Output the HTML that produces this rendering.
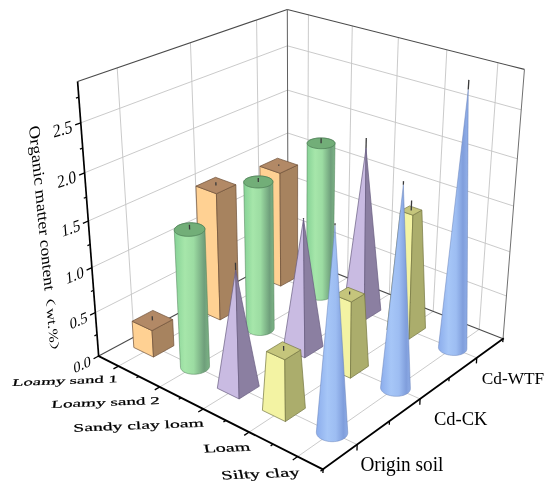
<!DOCTYPE html>
<html><head><meta charset="utf-8"><style>
html,body{margin:0;padding:0;background:#fff;}
svg{display:block;}
text{font-family:"Liberation Serif","Noto Serif CJK SC",serif;fill:#000;font-kerning:none;}
.t3{stroke:#000;stroke-width:0.3px;vector-effect:non-scaling-stroke;stroke-linejoin:round;}
</style></head><body>
<svg width="550" height="497" viewBox="0 0 550 497">
<defs><linearGradient id="g1" gradientUnits="userSpaceOnUse" x1="306.60" y1="0" x2="335.01" y2="0"><stop offset="0" stop-color="#86d296"/><stop offset="0.3" stop-color="#a6e6aa"/><stop offset="0.55" stop-color="#9cdca2"/><stop offset="0.85" stop-color="#6f9f7b"/><stop offset="1" stop-color="#7cb486"/></linearGradient><linearGradient id="g2" gradientUnits="userSpaceOnUse" x1="243.74" y1="0" x2="274.20" y2="0"><stop offset="0" stop-color="#86d296"/><stop offset="0.3" stop-color="#a6e6aa"/><stop offset="0.55" stop-color="#9cdca2"/><stop offset="0.85" stop-color="#6f9f7b"/><stop offset="1" stop-color="#7cb486"/></linearGradient><linearGradient id="g3" gradientUnits="userSpaceOnUse" x1="438.45" y1="0" x2="466.89" y2="0"><stop offset="0" stop-color="#8cadec"/><stop offset="0.35" stop-color="#a6c6f7"/><stop offset="0.62" stop-color="#9dbdf2"/><stop offset="0.86" stop-color="#809edc"/><stop offset="1" stop-color="#8eace6"/></linearGradient><linearGradient id="g4" gradientUnits="userSpaceOnUse" x1="174.26" y1="0" x2="209.56" y2="0"><stop offset="0" stop-color="#86d296"/><stop offset="0.3" stop-color="#a6e6aa"/><stop offset="0.55" stop-color="#9cdca2"/><stop offset="0.85" stop-color="#6f9f7b"/><stop offset="1" stop-color="#7cb486"/></linearGradient><linearGradient id="g5" gradientUnits="userSpaceOnUse" x1="380.56" y1="0" x2="410.39" y2="0"><stop offset="0" stop-color="#8cadec"/><stop offset="0.35" stop-color="#a6c6f7"/><stop offset="0.62" stop-color="#9dbdf2"/><stop offset="0.86" stop-color="#809edc"/><stop offset="1" stop-color="#8eace6"/></linearGradient><linearGradient id="g6" gradientUnits="userSpaceOnUse" x1="316.36" y1="0" x2="347.76" y2="0"><stop offset="0" stop-color="#8cadec"/><stop offset="0.35" stop-color="#a6c6f7"/><stop offset="0.62" stop-color="#9dbdf2"/><stop offset="0.86" stop-color="#809edc"/><stop offset="1" stop-color="#8eace6"/></linearGradient></defs>
<rect width="550" height="497" fill="#fff"/>
<polygon points="98.67,356.03 288.10,254.39 287.31,9.41 77.59,81.54" fill="#ffffff"/>
<polygon points="288.10,254.39 503.04,338.76 524.45,69.36 287.31,9.41" fill="#ffffff"/>
<line x1="95.33" y1="312.54" x2="287.97" y2="215.12" stroke="#c4c4c4" stroke-width="0.9"/>
<line x1="91.88" y1="267.55" x2="287.84" y2="174.69" stroke="#c4c4c4" stroke-width="0.9"/>
<line x1="88.30" y1="220.99" x2="287.71" y2="133.03" stroke="#c4c4c4" stroke-width="0.9"/>
<line x1="84.60" y1="172.78" x2="287.57" y2="90.10" stroke="#c4c4c4" stroke-width="0.9"/>
<line x1="80.76" y1="122.83" x2="287.43" y2="45.83" stroke="#c4c4c4" stroke-width="0.9"/>
<line x1="134.06" y1="337.04" x2="117.21" y2="67.92" stroke="#c4c4c4" stroke-width="0.9"/>
<line x1="199.94" y1="301.69" x2="190.43" y2="42.74" stroke="#c4c4c4" stroke-width="0.9"/>
<line x1="260.01" y1="269.46" x2="256.57" y2="19.98" stroke="#c4c4c4" stroke-width="0.9"/>
<line x1="287.97" y1="215.12" x2="506.44" y2="295.98" stroke="#c4c4c4" stroke-width="0.9"/>
<line x1="287.84" y1="174.69" x2="509.95" y2="251.78" stroke="#c4c4c4" stroke-width="0.9"/>
<line x1="287.71" y1="133.03" x2="513.58" y2="206.06" stroke="#c4c4c4" stroke-width="0.9"/>
<line x1="287.57" y1="90.10" x2="517.34" y2="158.76" stroke="#c4c4c4" stroke-width="0.9"/>
<line x1="287.43" y1="45.83" x2="521.24" y2="109.80" stroke="#c4c4c4" stroke-width="0.9"/>
<line x1="307.45" y1="261.99" x2="308.45" y2="14.76" stroke="#c4c4c4" stroke-width="0.9"/>
<line x1="347.48" y1="277.70" x2="352.29" y2="25.84" stroke="#c4c4c4" stroke-width="0.9"/>
<line x1="389.35" y1="294.14" x2="398.36" y2="37.49" stroke="#c4c4c4" stroke-width="0.9"/>
<line x1="433.21" y1="311.35" x2="446.83" y2="49.74" stroke="#c4c4c4" stroke-width="0.9"/>
<line x1="479.20" y1="329.40" x2="497.88" y2="62.64" stroke="#c4c4c4" stroke-width="0.9"/>
<line x1="118.54" y1="366.06" x2="307.45" y2="261.99" stroke="#c4c4c4" stroke-width="0.9"/>
<line x1="159.82" y1="386.92" x2="347.48" y2="277.70" stroke="#c4c4c4" stroke-width="0.9"/>
<line x1="203.32" y1="408.89" x2="389.35" y2="294.14" stroke="#c4c4c4" stroke-width="0.9"/>
<line x1="249.21" y1="432.08" x2="433.21" y2="311.35" stroke="#c4c4c4" stroke-width="0.9"/>
<line x1="297.69" y1="456.57" x2="479.20" y2="329.40" stroke="#c4c4c4" stroke-width="0.9"/>
<line x1="134.06" y1="337.04" x2="357.13" y2="444.58" stroke="#c4c4c4" stroke-width="0.9"/>
<line x1="199.94" y1="301.69" x2="420.07" y2="398.93" stroke="#c4c4c4" stroke-width="0.9"/>
<line x1="260.01" y1="269.46" x2="476.75" y2="357.82" stroke="#c4c4c4" stroke-width="0.9"/>
<line x1="77.59" y1="81.54" x2="287.31" y2="9.41" stroke="#4a4a4a" stroke-width="1.1"/>
<line x1="287.31" y1="9.41" x2="524.45" y2="69.36" stroke="#4a4a4a" stroke-width="1.1"/>
<line x1="288.10" y1="254.39" x2="287.31" y2="9.41" stroke="#606060" stroke-width="1.0"/>
<line x1="503.04" y1="338.76" x2="524.45" y2="69.36" stroke="#707070" stroke-width="1.0"/>
<line x1="98.67" y1="356.03" x2="288.10" y2="254.39" stroke="#4a4a4a" stroke-width="1.1"/>
<line x1="288.10" y1="254.39" x2="503.04" y2="338.76" stroke="#4a4a4a" stroke-width="1.1"/>
<polygon points="261.35,278.13 280.68,286.10 280.00,173.30 259.86,166.29" fill="#ffd193" stroke="#6e5038" stroke-width="0.7" stroke-linejoin="round"/>
<polygon points="280.68,286.10 297.57,276.67 297.61,165.02 280.00,173.30" fill="#a7835f" stroke="#6e5038" stroke-width="0.7" stroke-linejoin="round"/>
<polygon points="259.86,166.29 280.00,173.30 297.61,165.02 277.55,158.21" fill="#b28966" stroke="#6e5038" stroke-width="0.7" stroke-linejoin="round"/>
<line x1="278.76" y1="165.66" x2="278.75" y2="164.54" stroke="#3a3a3a" stroke-width="1.3" stroke-linecap="butt"/>
<polygon points="335.01,143.54 332.95,294.12 332.89,294.54 332.78,294.96 332.62,295.37 332.40,295.77 332.12,296.17 331.79,296.56 331.41,296.94 330.98,297.30 330.50,297.65 329.97,297.98 329.40,298.30 328.79,298.59 328.13,298.87 327.44,299.12 326.72,299.36 325.97,299.56 325.19,299.75 324.38,299.90 323.56,300.04 322.72,300.14 321.87,300.22 321.00,300.27 320.13,300.29 319.26,300.28 318.40,300.25 317.53,300.19 316.68,300.10 315.84,299.98 315.02,299.84 314.22,299.67 313.45,299.48 312.70,299.26 311.98,299.02 311.30,298.76 310.65,298.47 310.05,298.17 309.48,297.84 308.96,297.50 308.49,297.15 308.07,296.78 307.70,296.40 307.38,296.01 307.11,295.61 306.90,295.20 306.74,294.78 306.64,294.37 306.60,293.95 307.16,143.38 307.17,143.03 307.24,142.68 307.38,142.33 307.57,141.99 307.81,141.66 308.12,141.33 308.48,141.01 308.89,140.70 309.35,140.40 309.86,140.11 310.42,139.84 311.03,139.58 311.68,139.34 312.36,139.12 313.09,138.91 313.84,138.72 314.63,138.55 315.45,138.41 316.28,138.28 317.14,138.17 318.02,138.09 318.90,138.03 319.80,137.99 320.70,137.97 321.60,137.97 322.50,138.00 323.40,138.05 324.28,138.12 325.16,138.22 326.01,138.33 326.85,138.47 327.66,138.63 328.44,138.80 329.19,139.00 329.91,139.21 330.59,139.45 331.23,139.70 331.83,139.96 332.39,140.24 332.89,140.53 333.35,140.83 333.75,141.15 334.11,141.47 334.40,141.80 334.64,142.14 334.82,142.49 334.95,142.84 335.01,143.19" fill="url(#g1)" stroke="#4d7d55" stroke-width="0.5" stroke-linejoin="round"/>
<polygon points="331.88,146.77 332.44,146.49 332.94,146.20 333.40,145.89 333.80,145.58 334.15,145.25 334.44,144.92 334.67,144.58 334.84,144.24 334.96,143.89 335.01,143.54 335.01,143.19 334.95,142.84 334.82,142.49 334.64,142.14 334.40,141.80 334.11,141.47 333.75,141.15 333.35,140.83 332.89,140.53 332.39,140.24 331.83,139.96 331.23,139.70 330.59,139.45 329.91,139.21 329.19,139.00 328.44,138.80 327.66,138.63 326.85,138.47 326.01,138.33 325.16,138.22 324.28,138.12 323.40,138.05 322.50,138.00 321.60,137.97 320.70,137.97 319.80,137.99 318.90,138.03 318.02,138.09 317.14,138.17 316.28,138.28 315.45,138.41 314.63,138.55 313.84,138.72 313.09,138.91 312.36,139.12 311.68,139.34 311.03,139.58 310.42,139.84 309.86,140.11 309.35,140.40 308.89,140.70 308.48,141.01 308.12,141.33 307.81,141.66 307.57,141.99 307.38,142.33 307.24,142.68 307.17,143.03 307.16,143.38 307.21,143.73 307.31,144.08 307.48,144.43 307.70,144.77 307.99,145.11 308.32,145.44 308.72,145.76 309.17,146.07 309.67,146.36 310.21,146.65 310.81,146.92 311.45,147.17 312.14,147.41 312.86,147.63 313.62,147.84 314.41,148.02 315.23,148.18 316.08,148.32 316.94,148.44 317.83,148.54 318.73,148.62 319.64,148.67 320.56,148.70 321.48,148.70 322.40,148.68 323.31,148.64 324.22,148.58 325.10,148.49 325.98,148.38 326.83,148.25 327.65,148.09 328.45,147.92 329.21,147.73 329.94,147.51 330.63,147.28 331.28,147.03" fill="#72ae78" stroke="#4d7d55" stroke-width="0.8" stroke-linejoin="round"/>
<line x1="321.09" y1="143.28" x2="321.13" y2="138.14" stroke="#3a3a3a" stroke-width="1.3" stroke-linecap="butt"/>
<polygon points="200.57,311.18 220.10,319.92 216.40,193.72 195.98,186.10" fill="#ffd193" stroke="#6e5038" stroke-width="0.7" stroke-linejoin="round"/>
<polygon points="220.10,319.92 238.62,309.58 235.86,184.71 216.40,193.72" fill="#a7835f" stroke="#6e5038" stroke-width="0.7" stroke-linejoin="round"/>
<polygon points="195.98,186.10 216.40,193.72 235.86,184.71 215.50,177.31" fill="#b28966" stroke="#6e5038" stroke-width="0.7" stroke-linejoin="round"/>
<line x1="215.94" y1="185.41" x2="215.85" y2="182.25" stroke="#3a3a3a" stroke-width="1.3" stroke-linecap="butt"/>
<polygon points="343.07,311.83 364.29,320.58 366.02,148.23" fill="#c9bbe2" stroke="#675b80" stroke-width="0.7" stroke-linejoin="round"/>
<polygon points="364.29,320.58 380.83,310.23 366.02,148.23" fill="#8b7fa1" stroke="#675b80" stroke-width="0.7" stroke-linejoin="round"/>
<line x1="366.02" y1="148.23" x2="366.28" y2="137.92" stroke="#3a3a3a" stroke-width="1.3" stroke-linecap="butt"/>
<polygon points="246.56,328.53 243.74,182.02 243.80,181.62 243.91,181.23 244.09,180.84 244.33,180.46 244.63,180.09 244.98,179.72 245.40,179.36 245.86,179.02 246.38,178.68 246.95,178.36 247.57,178.06 248.24,177.77 248.94,177.50 249.69,177.25 250.47,177.02 251.28,176.81 252.12,176.62 252.99,176.45 253.89,176.31 254.80,176.19 255.72,176.10 256.66,176.03 257.60,175.99 258.54,175.97 259.49,175.97 260.43,176.00 261.36,176.06 262.28,176.14 263.18,176.24 264.06,176.37 264.92,176.52 265.75,176.70 266.55,176.90 267.32,177.12 268.04,177.36 268.73,177.62 269.37,177.89 269.97,178.19 270.52,178.50 271.02,178.83 271.46,179.17 271.85,179.52 272.18,179.88 272.45,180.25 272.66,180.63 272.81,181.01 272.90,181.40 272.93,181.79 274.20,328.26 274.16,328.72 274.07,329.18 273.92,329.63 273.71,330.09 273.45,330.53 273.12,330.97 272.74,331.39 272.31,331.81 271.83,332.21 271.30,332.59 270.72,332.96 270.09,333.30 269.42,333.63 268.71,333.93 267.97,334.21 267.19,334.46 266.39,334.69 265.55,334.89 264.70,335.07 263.82,335.21 262.93,335.33 262.03,335.41 261.12,335.47 260.21,335.49 259.29,335.49 258.39,335.45 257.49,335.38 256.60,335.28 255.73,335.16 254.89,335.00 254.06,334.81 253.26,334.60 252.50,334.36 251.77,334.10 251.08,333.81 250.42,333.49 249.81,333.16 249.25,332.81 248.74,332.43 248.27,332.04 247.86,331.64 247.50,331.22 247.20,330.79 246.96,330.35 246.77,329.90 246.64,329.44 246.57,328.99" fill="url(#g2)" stroke="#4d7d55" stroke-width="0.5" stroke-linejoin="round"/>
<polygon points="269.25,185.80 269.86,185.49 270.42,185.16 270.94,184.82 271.39,184.47 271.79,184.11 272.13,183.73 272.42,183.35 272.64,182.97 272.80,182.58 272.90,182.19 272.93,181.79 272.90,181.40 272.81,181.01 272.66,180.63 272.45,180.25 272.18,179.88 271.85,179.52 271.46,179.17 271.02,178.83 270.52,178.50 269.97,178.19 269.37,177.89 268.73,177.62 268.04,177.36 267.32,177.12 266.55,176.90 265.75,176.70 264.92,176.52 264.06,176.37 263.18,176.24 262.28,176.14 261.36,176.06 260.43,176.00 259.49,175.97 258.54,175.97 257.60,175.99 256.66,176.03 255.72,176.10 254.80,176.19 253.89,176.31 252.99,176.45 252.12,176.62 251.28,176.81 250.47,177.02 249.69,177.25 248.94,177.50 248.24,177.77 247.57,178.06 246.95,178.36 246.38,178.68 245.86,179.02 245.40,179.36 244.98,179.72 244.63,180.09 244.33,180.46 244.09,180.84 243.91,181.23 243.80,181.62 243.74,182.02 243.75,182.41 243.82,182.80 243.96,183.19 244.15,183.57 244.41,183.94 244.73,184.31 245.10,184.67 245.54,185.01 246.02,185.35 246.57,185.67 247.16,185.97 247.80,186.25 248.49,186.52 249.22,186.77 249.99,186.99 250.80,187.20 251.64,187.38 252.51,187.54 253.41,187.67 254.33,187.78 255.26,187.87 256.21,187.92 257.17,187.96 258.13,187.96 259.10,187.94 260.06,187.89 261.01,187.82 261.95,187.72 262.88,187.60 263.78,187.45 264.67,187.28 265.52,187.09 266.34,186.87 267.13,186.63 267.88,186.37 268.58,186.10" fill="#72ae78" stroke="#4d7d55" stroke-width="0.8" stroke-linejoin="round"/>
<line x1="258.34" y1="181.90" x2="258.28" y2="177.90" stroke="#3a3a3a" stroke-width="1.3" stroke-linecap="butt"/>
<polygon points="386.91,329.91 409.17,339.09 412.87,215.20 400.48,210.92" fill="#f3f3a3" stroke="#747641" stroke-width="0.7" stroke-linejoin="round"/>
<polygon points="409.17,339.09 425.48,328.22 421.90,210.14 412.87,215.20" fill="#abad6c" stroke="#747641" stroke-width="0.7" stroke-linejoin="round"/>
<polygon points="400.48,210.92 412.87,215.20 421.90,210.14 409.55,205.92" fill="#c5c57c" stroke="#747641" stroke-width="0.7" stroke-linejoin="round"/>
<line x1="411.20" y1="210.53" x2="411.62" y2="200.46" stroke="#3a3a3a" stroke-width="1.3" stroke-linecap="butt"/>
<polygon points="133.82,347.48 153.50,357.09 152.03,330.63 132.17,321.24" fill="#ffd193" stroke="#6e5038" stroke-width="0.7" stroke-linejoin="round"/>
<polygon points="153.50,357.09 173.89,345.71 172.65,319.52 152.03,330.63" fill="#a7835f" stroke="#6e5038" stroke-width="0.7" stroke-linejoin="round"/>
<polygon points="132.17,321.24 152.03,330.63 172.65,319.52 152.83,310.40" fill="#b28966" stroke="#6e5038" stroke-width="0.7" stroke-linejoin="round"/>
<line x1="152.43" y1="320.38" x2="152.21" y2="316.30" stroke="#3a3a3a" stroke-width="1.3" stroke-linecap="butt"/>
<polygon points="283.28,348.18 304.81,357.81 303.50,219.06" fill="#c9bbe2" stroke="#675b80" stroke-width="0.7" stroke-linejoin="round"/>
<polygon points="304.81,357.81 323.02,346.41 303.50,219.06" fill="#8b7fa1" stroke="#675b80" stroke-width="0.7" stroke-linejoin="round"/>
<line x1="303.50" y1="219.06" x2="303.50" y2="218.12" stroke="#3a3a3a" stroke-width="1.3" stroke-linecap="butt"/>
<polygon points="468.24,89.58 466.89,348.82 466.86,349.30 466.76,349.78 466.60,350.25 466.39,350.71 466.11,351.16 465.78,351.59 465.38,352.01 464.94,352.42 464.44,352.80 463.89,353.16 463.28,353.51 462.64,353.83 461.95,354.12 461.22,354.39 460.45,354.63 459.65,354.84 458.81,355.02 457.95,355.18 457.07,355.30 456.17,355.39 455.25,355.44 454.32,355.47 453.38,355.46 452.44,355.42 451.51,355.35 450.57,355.25 449.65,355.12 448.74,354.95 447.84,354.76 446.97,354.53 446.13,354.28 445.31,354.00 444.52,353.70 443.77,353.37 443.06,353.02 442.39,352.64 441.77,352.25 441.19,351.84 440.66,351.41 440.19,350.97 439.77,350.52 439.40,350.06 439.09,349.58 438.84,349.11 438.65,348.62 438.53,348.14 438.46,347.66 438.45,347.17 438.50,346.70" fill="url(#g3)" stroke="#6680b8" stroke-width="0.5" stroke-linejoin="round"/>
<line x1="468.24" y1="89.58" x2="468.82" y2="79.90" stroke="#3a3a3a" stroke-width="1.3" stroke-linecap="butt"/>
<polygon points="180.47,367.09 174.26,230.09 174.30,229.65 174.40,229.20 174.57,228.76 174.80,228.32 175.10,227.89 175.46,227.47 175.87,227.05 176.35,226.65 176.88,226.26 177.46,225.88 178.10,225.52 178.78,225.18 179.51,224.85 180.28,224.55 181.09,224.27 181.93,224.01 182.81,223.77 183.72,223.56 184.65,223.37 185.60,223.21 186.56,223.08 187.54,222.97 188.53,222.89 189.52,222.84 190.51,222.82 191.50,222.82 192.48,222.86 193.45,222.92 194.40,223.01 195.34,223.13 196.25,223.28 197.13,223.45 197.98,223.65 198.79,223.87 199.57,224.12 200.30,224.39 200.99,224.68 201.63,224.99 202.22,225.32 202.76,225.67 203.24,226.04 203.67,226.43 204.03,226.82 204.34,227.23 204.58,227.65 204.76,228.08 204.87,228.51 204.92,228.95 209.56,365.77 209.55,366.28 209.47,366.79 209.33,367.30 209.13,367.80 208.87,368.30 208.55,368.79 208.18,369.27 207.74,369.74 207.25,370.20 206.71,370.64 206.11,371.06 205.47,371.47 204.78,371.85 204.05,372.21 203.28,372.54 202.47,372.85 201.63,373.13 200.76,373.38 199.87,373.61 198.95,373.80 198.02,373.96 197.07,374.08 196.12,374.18 195.16,374.24 194.20,374.27 193.24,374.26 192.29,374.22 191.35,374.14 190.43,374.04 189.53,373.89 188.65,373.72 187.80,373.52 186.98,373.28 186.20,373.02 185.46,372.73 184.76,372.41 184.10,372.06 183.49,371.69 182.93,371.30 182.42,370.89 181.97,370.46 181.58,370.01 181.24,369.55 180.96,369.07 180.74,368.59 180.59,368.09 180.50,367.59" fill="url(#g4)" stroke="#4d7d55" stroke-width="0.5" stroke-linejoin="round"/>
<polygon points="200.57,233.92 201.25,233.56 201.88,233.19 202.46,232.81 202.98,232.41 203.44,232.00 203.84,231.58 204.18,231.15 204.46,230.72 204.67,230.28 204.82,229.84 204.90,229.39 204.92,228.95 204.87,228.51 204.76,228.08 204.58,227.65 204.34,227.23 204.03,226.82 203.67,226.43 203.24,226.04 202.76,225.67 202.22,225.32 201.63,224.99 200.99,224.68 200.30,224.39 199.57,224.12 198.79,223.87 197.98,223.65 197.13,223.45 196.25,223.28 195.34,223.13 194.40,223.01 193.45,222.92 192.48,222.86 191.50,222.82 190.51,222.82 189.52,222.84 188.53,222.89 187.54,222.97 186.56,223.08 185.60,223.21 184.65,223.37 183.72,223.56 182.81,223.77 181.93,224.01 181.09,224.27 180.28,224.55 179.51,224.85 178.78,225.18 178.10,225.52 177.46,225.88 176.88,226.26 176.35,226.65 175.87,227.05 175.46,227.47 175.10,227.89 174.80,228.32 174.57,228.76 174.40,229.20 174.30,229.65 174.26,230.09 174.29,230.53 174.39,230.97 174.54,231.40 174.77,231.82 175.06,232.24 175.41,232.64 175.82,233.03 176.29,233.41 176.82,233.77 177.41,234.11 178.05,234.43 178.74,234.73 179.48,235.01 180.26,235.27 181.08,235.50 181.94,235.70 182.84,235.88 183.76,236.03 184.71,236.16 185.68,236.25 186.67,236.32 187.67,236.35 188.68,236.36 189.69,236.33 190.70,236.28 191.71,236.20 192.71,236.09 193.69,235.95 194.66,235.78 195.60,235.59 196.52,235.37 197.41,235.12 198.26,234.85 199.07,234.56 199.85,234.25" fill="#72ae78" stroke="#4d7d55" stroke-width="0.8" stroke-linejoin="round"/>
<line x1="189.60" y1="229.52" x2="189.41" y2="224.72" stroke="#3a3a3a" stroke-width="1.3" stroke-linecap="butt"/>
<polygon points="327.80,368.09 350.45,378.23 351.31,301.94 334.59,295.16" fill="#f3f3a3" stroke="#747641" stroke-width="0.7" stroke-linejoin="round"/>
<polygon points="350.45,378.23 368.45,366.23 364.59,293.92 351.31,301.94" fill="#abad6c" stroke="#747641" stroke-width="0.7" stroke-linejoin="round"/>
<polygon points="334.59,295.16 351.31,301.94 364.59,293.92 347.93,287.29" fill="#c5c57c" stroke="#747641" stroke-width="0.7" stroke-linejoin="round"/>
<line x1="349.60" y1="294.54" x2="349.66" y2="291.52" stroke="#3a3a3a" stroke-width="1.3" stroke-linecap="butt"/>
<polygon points="217.32,388.28 239.12,398.94 235.63,270.06" fill="#c9bbe2" stroke="#675b80" stroke-width="0.7" stroke-linejoin="round"/>
<polygon points="239.12,398.94 259.27,386.32 235.63,270.06" fill="#8b7fa1" stroke="#675b80" stroke-width="0.7" stroke-linejoin="round"/>
<line x1="235.63" y1="270.06" x2="235.47" y2="262.83" stroke="#3a3a3a" stroke-width="1.3" stroke-linecap="butt"/>
<polygon points="403.35,184.82 410.39,388.44 410.38,388.98 410.30,389.51 410.17,390.04 409.96,390.55 409.70,391.06 409.38,391.56 408.99,392.04 408.55,392.51 408.05,392.95 407.49,393.38 406.88,393.78 406.22,394.16 405.52,394.51 404.77,394.84 403.98,395.13 403.15,395.40 402.29,395.64 401.40,395.84 400.49,396.01 399.55,396.14 398.59,396.24 397.62,396.30 396.64,396.33 395.66,396.33 394.67,396.28 393.69,396.20 392.71,396.09 391.75,395.94 390.81,395.76 389.88,395.54 388.98,395.30 388.11,395.02 387.27,394.71 386.47,394.37 385.70,394.01 384.98,393.62 384.31,393.21 383.68,392.77 383.11,392.32 382.59,391.85 382.12,391.36 381.71,390.86 381.37,390.34 381.08,389.82 380.86,389.29 380.69,388.76 380.60,388.22 380.56,387.69 380.59,387.16" fill="url(#g5)" stroke="#6680b8" stroke-width="0.5" stroke-linejoin="round"/>
<line x1="403.35" y1="184.82" x2="403.49" y2="181.13" stroke="#3a3a3a" stroke-width="1.3" stroke-linecap="butt"/>
<polygon points="262.42,410.33 285.42,421.57 284.82,359.72 266.50,351.41" fill="#f3f3a3" stroke="#747641" stroke-width="0.7" stroke-linejoin="round"/>
<polygon points="285.42,421.57 305.39,408.26 300.74,349.88 284.82,359.72" fill="#abad6c" stroke="#747641" stroke-width="0.7" stroke-linejoin="round"/>
<polygon points="266.50,351.41 284.82,359.72 300.74,349.88 282.48,341.78" fill="#c5c57c" stroke="#747641" stroke-width="0.7" stroke-linejoin="round"/>
<line x1="283.64" y1="350.64" x2="283.61" y2="345.95" stroke="#3a3a3a" stroke-width="1.3" stroke-linecap="butt"/>
<polygon points="316.36,432.67 316.37,432.08 334.99,225.29 347.75,432.32 347.76,432.91 347.71,433.51 347.59,434.10 347.40,434.68 347.14,435.26 346.83,435.82 346.44,436.38 346.00,436.91 345.49,437.43 344.93,437.93 344.31,438.40 343.63,438.85 342.91,439.27 342.14,439.66 341.32,440.02 340.46,440.35 339.57,440.65 338.64,440.91 337.68,441.14 336.70,441.32 335.70,441.47 334.69,441.59 333.66,441.66 332.62,441.69 331.58,441.68 330.55,441.63 329.52,441.55 328.50,441.42 327.49,441.25 326.51,441.05 325.55,440.81 324.63,440.54 323.73,440.23 322.87,439.88 322.05,439.51 321.27,439.10 320.54,438.67 319.87,438.21 319.24,437.73 318.67,437.22 318.16,436.70 317.71,436.15 317.32,435.60 317.00,435.03 316.74,434.45 316.55,433.86 316.42,433.27" fill="url(#g6)" stroke="#6680b8" stroke-width="0.5" stroke-linejoin="round"/>
<line x1="334.99" y1="225.29" x2="335.02" y2="223.15" stroke="#3a3a3a" stroke-width="1.3" stroke-linecap="butt"/>
<line x1="98.67" y1="356.03" x2="77.59" y2="81.54" stroke="#000000" stroke-width="1.7"/>
<line x1="98.67" y1="356.03" x2="322.98" y2="469.35" stroke="#000000" stroke-width="2.0" stroke-linecap="square"/>
<line x1="322.98" y1="469.35" x2="503.04" y2="338.76" stroke="#000000" stroke-width="1.8" stroke-linecap="square"/>
<line x1="98.67" y1="356.03" x2="93.58" y2="358.76" stroke="#000000" stroke-width="1.3"/>
<line x1="97.02" y1="334.46" x2="94.45" y2="335.80" stroke="#000000" stroke-width="1.3"/>
<line x1="95.33" y1="312.54" x2="90.14" y2="315.16" stroke="#000000" stroke-width="1.3"/>
<line x1="93.62" y1="290.23" x2="91.00" y2="291.52" stroke="#000000" stroke-width="1.3"/>
<line x1="91.88" y1="267.55" x2="86.58" y2="270.06" stroke="#000000" stroke-width="1.3"/>
<line x1="90.11" y1="244.47" x2="87.44" y2="245.69" stroke="#000000" stroke-width="1.3"/>
<line x1="88.30" y1="220.99" x2="82.90" y2="223.38" stroke="#000000" stroke-width="1.3"/>
<line x1="86.47" y1="197.10" x2="83.74" y2="198.26" stroke="#000000" stroke-width="1.3"/>
<line x1="84.60" y1="172.78" x2="79.09" y2="175.03" stroke="#000000" stroke-width="1.3"/>
<line x1="82.70" y1="148.03" x2="79.92" y2="149.11" stroke="#000000" stroke-width="1.3"/>
<line x1="80.76" y1="122.83" x2="75.14" y2="124.92" stroke="#000000" stroke-width="1.3"/>
<line x1="78.79" y1="97.17" x2="75.96" y2="98.17" stroke="#000000" stroke-width="1.3"/>
<line x1="118.54" y1="366.06" x2="113.45" y2="368.87" stroke="#000000" stroke-width="1.3"/>
<line x1="138.91" y1="376.36" x2="136.38" y2="377.79" stroke="#000000" stroke-width="1.3"/>
<line x1="159.82" y1="386.92" x2="154.75" y2="389.87" stroke="#000000" stroke-width="1.3"/>
<line x1="181.28" y1="397.76" x2="178.75" y2="399.27" stroke="#000000" stroke-width="1.3"/>
<line x1="203.32" y1="408.89" x2="198.27" y2="412.01" stroke="#000000" stroke-width="1.3"/>
<line x1="225.95" y1="420.33" x2="223.44" y2="421.92" stroke="#000000" stroke-width="1.3"/>
<line x1="249.21" y1="432.08" x2="244.19" y2="435.36" stroke="#000000" stroke-width="1.3"/>
<line x1="273.11" y1="444.15" x2="270.62" y2="445.84" stroke="#000000" stroke-width="1.3"/>
<line x1="297.69" y1="456.57" x2="292.73" y2="460.05" stroke="#000000" stroke-width="1.3"/>
<line x1="322.98" y1="469.35" x2="320.52" y2="471.13" stroke="#000000" stroke-width="1.3"/>
<line x1="322.98" y1="469.35" x2="322.94" y2="473.08" stroke="#000000" stroke-width="1.3"/>
<line x1="357.13" y1="444.58" x2="356.98" y2="450.54" stroke="#000000" stroke-width="1.3"/>
<line x1="389.44" y1="421.14" x2="389.31" y2="424.75" stroke="#000000" stroke-width="1.3"/>
<line x1="420.07" y1="398.93" x2="419.79" y2="404.68" stroke="#000000" stroke-width="1.3"/>
<line x1="449.13" y1="377.85" x2="448.92" y2="381.33" stroke="#000000" stroke-width="1.3"/>
<line x1="476.75" y1="357.82" x2="476.37" y2="363.37" stroke="#000000" stroke-width="1.3"/>
<line x1="503.04" y1="338.76" x2="502.77" y2="342.12" stroke="#000000" stroke-width="1.3"/>
<text font-size="20" transform="matrix(0.6939 -0.3206 0.0641 0.7675 73.957 373.5271)">0.0</text>
<text font-size="20" transform="matrix(0.7075 -0.3044 0.0663 0.794 70.1377 329.6084)">0.5</text>
<text font-size="20" transform="matrix(0.7217 -0.2868 0.0686 0.8218 66.1851 284.1571)">1.0</text>
<text font-size="20" transform="matrix(0.7365 -0.2679 0.071 0.8511 62.0922 237.0915)">1.5</text>
<text font-size="20" transform="matrix(0.7519 -0.2473 0.0736 0.882 57.8513 188.3242)">2.0</text>
<text font-size="20" transform="matrix(0.7679 -0.2251 0.0763 0.9146 53.4543 137.761)">2.5</text>
<text class="t3" font-size="20" transform="matrix(0.9332 -0.0342 -0.1056 0.5044 11.6471 386.0264)">Loamy</text>
<text class="t3" font-size="20" transform="matrix(0.9284 -0.034 -0.0309 0.5019 69.6089 383.9061)">sand 1</text>
<text class="t3" font-size="20" transform="matrix(0.9562 -0.036 -0.0692 0.5316 51.0915 407.8824)">Loamy</text>
<text class="t3" font-size="20" transform="matrix(0.9511 -0.0358 0.0199 0.5289 110.5556 405.6451)">sand 2</text>
<text class="t3" font-size="20" transform="matrix(0.9787 -0.038 0.0391 0.5601 73.6086 431.6881)">Sandy clay loam</text>
<text class="t3" font-size="20" transform="matrix(0.9998 -0.04 0.0994 0.5896 204.1577 452.5865)">Loam</text>
<text class="t3" font-size="20" transform="matrix(1.0277 -0.0425 0.1254 0.6249 222.0147 479.448)">Silty clay</text>
<text font-size="19.3" transform="matrix(1 0 0 1.045 360.4 471.0)">Origin soil</text>
<text font-size="18.5" transform="matrix(1 0 0 1.0 434.0 425.0)">Cd-CK</text>
<text font-size="17.3" transform="matrix(1 0 0 1.0 481.8 383.9)">Cd-WTF</text>
<text font-size="20" transform="matrix(0.0875 0.9251 -0.7872 0.1697 29.0536 126.6976)">Organic</text>
<text font-size="20" transform="matrix(0.0843 0.8917 -0.7742 0.1521 35.1844 190.6091)">matter</text>
<text font-size="20" transform="matrix(0.0814 0.8614 -0.7622 0.1363 39.9824 240.4954)">content</text>
<text font-size="20" transform="matrix(0.0786 0.8175 -0.6491 0.103 46.5293 308.9608)">wt.%</text>
<text font-size="20" font-family="'Liberation Serif','Noto Serif CJK SC',serif" transform="matrix(0.1028 1.0924 -0.5128 0.0852 45.0696 285.8999)">（</text>
<text font-size="20" font-family="'Liberation Serif','Noto Serif CJK SC',serif" transform="matrix(0.1 1.0621 -0.5063 0.0771 50.1403 341.8102)">）</text>
</svg>
</body></html>
